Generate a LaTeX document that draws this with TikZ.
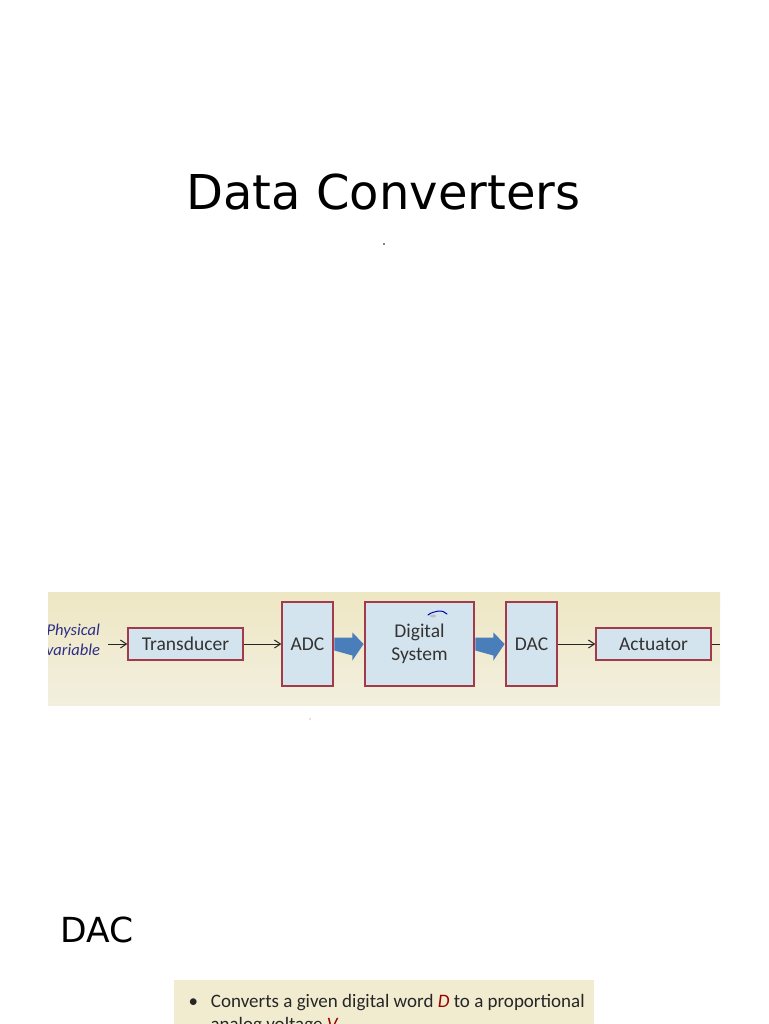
\documentclass[tikz,border=0pt]{standalone}
\usepackage{fontspec}
\setmainfont{DejaVu Sans}
\newfontfamily\carlito{Carlito}
\usetikzlibrary{arrows.meta,calc}
\definecolor{panel}{HTML}{EEE7C4}
\definecolor{panelb}{HTML}{F2EFDE}
\definecolor{boxfill}{HTML}{D4E4EE}
\definecolor{boxline}{HTML}{A23A4A}
\definecolor{bluearrow}{HTML}{4A7EBB}
\definecolor{phys}{HTML}{2C2E85}
\tikzset{
  blk/.style={draw=boxline, line width=1.4pt, fill=boxfill, inner sep=0pt, font=\carlito\fontsize{19.5}{23}\selectfont, text=black!80, align=center},
  thin/.style={-{Straight Barb[length=6pt,width=8pt]}, line width=1pt, black!85},
  fat/.style={fill=bluearrow}
}
\begin{document}
\begin{tikzpicture}[x=1pt,y=-1pt]
\useasboundingbox (0,0) rectangle (768,1024);
\fill[white] (0,0) rectangle (768,1024);
% title
\node (title) at (383.5,192) {\fontsize{48}{56}\selectfont Data Converters};
\fill (384,244) circle (0.8pt);
% diagram panel
\shade[top color=panel, bottom color=panelb] (48,592) rectangle (720,705);
\begin{scope}
\clip (48,592) rectangle (720,705);
\node[anchor=east, align=right, text=phys, font=\carlito\itshape\fontsize{16.5}{20}\selectfont] (pv) at (103.5,640) {Physical\\variable};
\end{scope}
\node[blk, minimum width=115pt, minimum height=32pt] (tr) at (185.5,644) {Transducer};
\node[blk, minimum width=51pt, minimum height=84pt] (adc) at (307.5,644) {ADC};
\node[blk, minimum width=109pt, minimum height=84pt] (ds) at (419.5,644) {Digital\\System};
\node[blk, minimum width=51pt, minimum height=84pt] (dac) at (531.5,644) {DAC};
\node[blk, minimum width=115pt, minimum height=32pt] (act) at (653.5,644) {Actuator};
\coordinate (pvend) at (108,644);
\coordinate (out) at (720,644);
\draw[thin] (pvend) -- (tr.west);
\draw[thin] (tr.east) -- (adc.west);
\draw[thin] (dac.east) -- (act.west);
\draw[line width=1pt, black!85] (act.east) -- (out);
\fill[fat] ($(adc.east)+(0.7,-6.5)$) -- ++(18,0) -- ++(0,-5) -- ($(ds.west)+(-0.7,0)$) -- ($(adc.east)+(18.7,16.5)$) -- ++(0,-5) -- ($(adc.east)+(0.7,6.5)$) -- cycle;
\fill[fat] ($(ds.east)+(0.7,-6.5)$) -- ++(18,0) -- ++(0,-5) -- ($(dac.west)+(-0.7,0)$) -- ($(ds.east)+(18.7,16.5)$) -- ++(0,-5) -- ($(ds.east)+(0.7,6.5)$) -- cycle;
% scribble
\fill[gray!50] (433,616) ellipse (3pt and 1.5pt);
\draw[blue!70!black, line width=1pt, line cap=round] (428,615) .. controls (433,611) and (443,609) .. (447,614);
\fill[red!70] (310,719) circle (0.7pt);
% DAC heading
\node[anchor=west] (dachead) at (57,930) {\fontsize{34.5}{40}\selectfont DAC};
% bottom panel
\begin{scope}
\clip (0,0) rectangle (768,1024);
\fill[panel!80!white] (174,980) rectangle (594,1040);
\node[anchor=base west, font=\carlito\fontsize{19}{23}\selectfont, text=black!85] (b1) at (185,1007) {\textbullet\hspace{13pt}Converts a given digital word {\color{red!60!black}\itshape D} to a proportional};
\node[anchor=base west, font=\carlito\fontsize{19}{23}\selectfont, text=black!85] (b2) at (207,1030) {analog voltage {\color{red!60!black}\itshape V}.};
\end{scope}
\end{tikzpicture}
\end{document}
